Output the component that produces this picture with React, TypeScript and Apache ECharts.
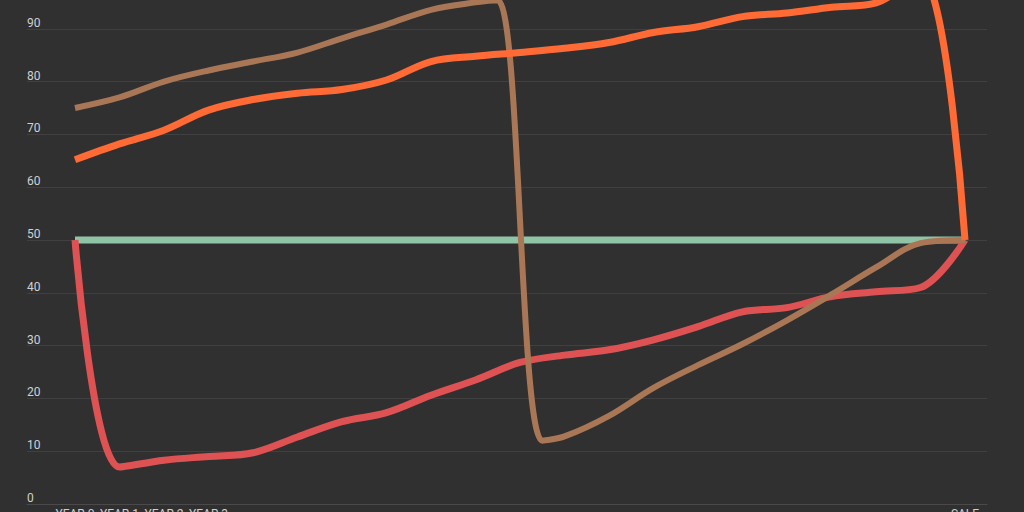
import React, { useEffect, useRef } from "react";
import * as echarts from "echarts";

// x positions (period index: 0 = YEAR 0 ... 20 = SALE)
const periods = [0, 1, 2, 3, 4, 5, 6, 7, 8, 9, 10, 11, 12, 13, 14, 15, 16, 17, 18, 19, 20];
// the brown series drops between periods 9.5 and 10.5
const brownPeriods = [0, 1, 2, 3, 4, 5, 6, 7, 8, 9, 9.5, 10.5, 11, 12, 13, 14, 15, 16, 17, 18, 19, 20];

// tick labels shown on the x axis
const tickPositions = [0, 1, 2, 3, 20];
const tickLabels = ["YEAR 0", "YEAR 1", "YEAR 2", "YEAR 3", "SALE"];

// series values
const greenValues = [50, 50, 50, 50, 50, 50, 50, 50, 50, 50, 50, 50, 50, 50, 50, 50, 50, 50, 50, 50, 50];
const redValues = [50, 7, 8.3, 9, 9.7, 12.7, 15.6, 17.3, 20.6, 23.5, 26.8, 28.2, 29.2, 31.1, 33.6, 36.4, 37.2, 39.3, 40.2, 41, 50];
const brownValues = [75, 77, 80, 82.1, 83.8, 85.5, 88.2, 90.8, 93.6, 95.0, 95.4, 12, 12.8, 16.7, 22, 26.3, 30.3, 34.8, 39.7, 44.8, 49.4, 50];
const orangeValues = [65.2, 68.2, 70.8, 74.6, 76.6, 77.8, 78.5, 80.3, 83.8, 84.8, 85.5, 86.3, 87.4, 89.3, 90.4, 92.3, 93.0, 94.1, 94.9, 100, 50];

const pairs = (xs: number[], vals: number[]) => xs.map((p, i) => [p, vals[i]]);

export default function App() {
  const ref = useRef<HTMLDivElement>(null);
  useEffect(() => {
    if (!ref.current) return;
    const chart = echarts.init(ref.current, null, { renderer: "svg" });
    const lineSeries = (name: string, xs: number[], vals: number[], color: string, width: number) => ({
      name,
      type: "line",
      data: pairs(xs, vals),
      smooth: 0.35,
      showSymbol: false,
      symbol: "none",
      lineStyle: { color, width, cap: "butt" },
      itemStyle: { color },
    });
    chart.setOption({
      animation: false,
      backgroundColor: "#303030",
      textStyle: { fontFamily: "Roboto" },
      grid: { left: 27, right: 37, top: -24, bottom: 8, outerBoundsMode: "none", containLabel: false },
      xAxis: {
        type: "value",
        min: -1.0787,
        max: 20.494,
        splitLine: { show: false },
        axisTick: { show: false },
        axisLine: { show: true, lineStyle: { color: "#4a4a4a", width: 1 } },
        axisLabel: {
          customValues: tickPositions,
          color: "#d0d0d0",
          fontSize: 12,
          fontFamily: "Roboto",
          margin: 4,
          formatter: (v: number) => {
            const i = tickPositions.indexOf(Math.round(v));
            return i >= 0 ? tickLabels[i] : "";
          },
        },
      },
      yAxis: {
        type: "value",
        min: 0,
        max: 100,
        interval: 10,
        axisLine: { show: false },
        axisTick: { show: false },
        splitLine: { show: true, lineStyle: { color: "#404040", width: 1 } },
        axisLabel: {
          inside: true,
          margin: 0,
          verticalAlign: "bottom",
          color: "#d0d0d0",
          fontSize: 12,
          fontFamily: "Roboto",
          formatter: (v: number) => (v >= 100 ? "" : String(v)),
        },
      },
      series: [
        lineSeries("green", periods, greenValues, "#8fc4a7", 7),
        lineSeries("red", periods, redValues, "#df5254", 7),
        lineSeries("brown", brownPeriods, brownValues, "#aa7756", 6),
        lineSeries("orange", periods, orangeValues, "#ff6a35", 7),
      ],
    });
    return () => chart.dispose();
  }, []);
  return (
    <div
      ref={ref}
      style={{ position: "fixed", left: 0, top: 0, width: 1024, height: 512 }}
    />
  );
}
